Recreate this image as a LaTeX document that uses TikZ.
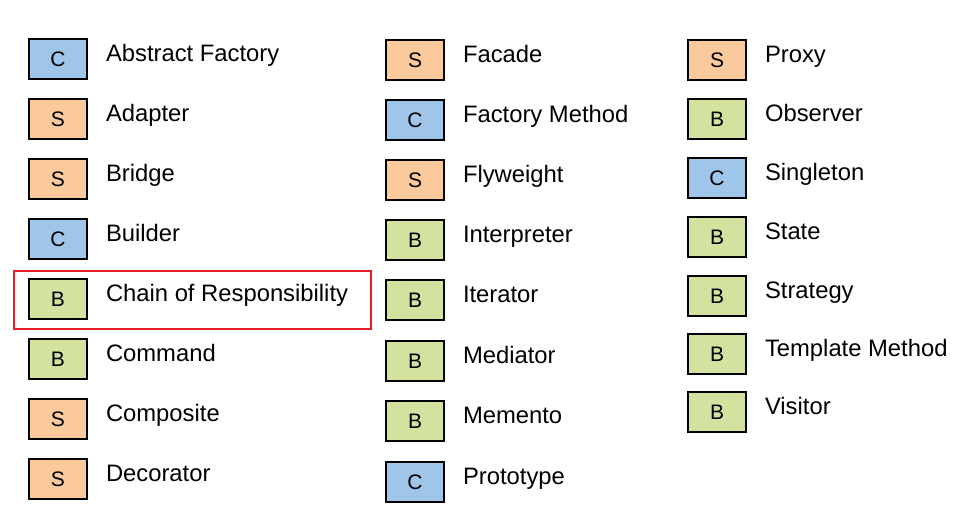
\documentclass[tikz,border=0pt]{standalone}
\usepackage{fontspec}
\setmainfont{Liberation Sans}
\definecolor{cb}{RGB}{159,197,232}
\definecolor{cs}{RGB}{250,202,156}
\definecolor{cg}{RGB}{212,226,160}
\definecolor{cr}{RGB}{230,30,40}
\begin{document}
\begin{tikzpicture}[x=1pt,y=-1pt,
  tag/.style={draw,line width=1.6pt,minimum width=58pt,minimum height=40pt,inner sep=0pt,font=\fontsize{21}{21}\selectfont},
  lab/.style={anchor=mid west,inner sep=0pt,font=\fontsize{23.8}{24}\selectfont}]
\useasboundingbox (0,0) rectangle (976,530);
\foreach \x/\y/\k/\t/\n in {
 58/59/C/Abstract Factory/a1, 58/119/S/Adapter/a2, 58/179/S/Bridge/a3, 58/239/C/Builder/a4,
 58/299/B/Chain of Responsibility/a5, 58/359/B/Command/a6, 58/419/S/Composite/a7, 58/479/S/Decorator/a8,
 415/60/S/Facade/b1, 415/120/C/Factory Method/b2, 415/180/S/Flyweight/b3, 415/240/B/Interpreter/b4,
 415/300/B/Iterator/b5, 415/361/B/Mediator/b6, 415/421/B/Memento/b7, 415/482/C/Prototype/b8,
 717/60/S/Proxy/c1, 717/119/B/Observer/c2, 717/178/C/Singleton/c3, 717/237/B/State/c4,
 717/296/B/Strategy/c5, 717/354/B/Template Method/c6, 717/412/B/Visitor/c7}{
 \def\cc{cg}%
 \if C\k \def\cc{cb}\fi
 \if S\k \def\cc{cs}\fi
 \node[tag,fill=\cc] (t\n) at (\x,\y) {\k};
 \node[lab] (l\n) at ([xshift=18pt]t\n.east) {\t};
}
\node[draw=cr,line width=2.5pt,minimum width=357pt,minimum height=58pt,inner sep=0pt] (hl) at (192.5,300) {};
\end{tikzpicture}
\end{document}
